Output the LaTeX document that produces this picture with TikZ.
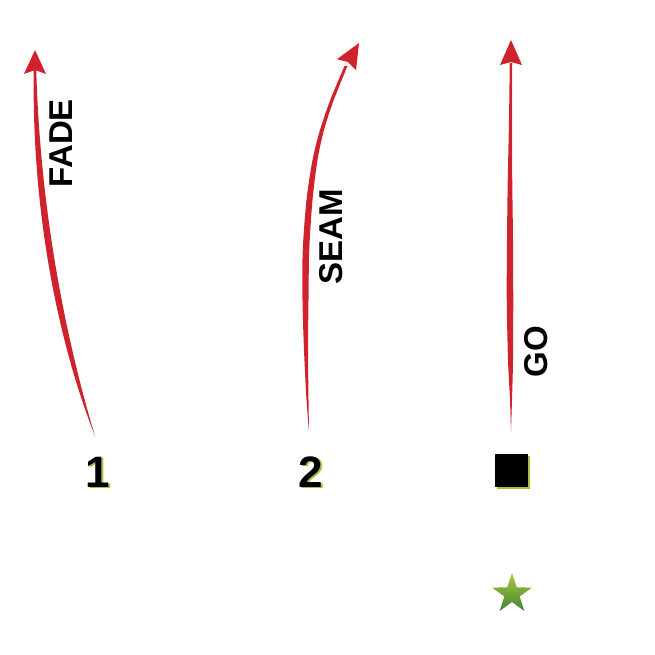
\documentclass[tikz,border=0pt]{standalone}
\usepackage{fontspec}
\setmainfont{Liberation Sans}
\usetikzlibrary{shapes.geometric}
\definecolor{routered}{RGB}{208,34,44}
\definecolor{shadowgreen}{RGB}{170,190,60}
\definecolor{startop}{RGB}{172,198,62}
\definecolor{starbot}{RGB}{70,132,55}
\begin{document}
\begin{tikzpicture}[x=1pt,y=-1pt,
  routelabel/.style={font=\fontsize{33}{33}\selectfont\bfseries, text=black, rotate=90, inner sep=0pt},
  playernum/.style={font=\fontsize{44}{44}\selectfont\bfseries, inner sep=0pt},
  numshadow/.style={playernum, text=shadowgreen},
  route/.style={fill=routered, draw=none}]
\useasboundingbox[fill=white] (0,0) rectangle (655,655);

% named points of the routes
\coordinate (fadetip) at (35,50);
\coordinate (seamtip) at (359,43);
\coordinate (gotip) at (511,40);

% FADE route
\fill[route] (95,436) .. controls (61,350) and (31.5,220) .. (33.75,70)
  -- (36.25,70) .. controls (40.5,220) and (69,350) .. (95,436) -- cycle;
\fill[route] (fadetip) -- (24,74) -- (35,70) -- (46,74) -- cycle;

% SEAM route
\fill[route] plot[smooth] coordinates {(309,432) (306.5,400) (304,350) (302.5,300) (302.75,250) (306.5,200) (312.5,160) (320,130) (330.25,100) (344.5,66)}
  -- plot[smooth] coordinates {(347.5,66) (333.75,100) (324,130) (317.5,160) (312.5,200) (309.25,250) (308.5,300) (308,350) (308.5,400) (309,432)} -- cycle;
\fill[route] (seamtip) -- (337,59.2) -- (348,62) -- (356,70.2) -- cycle;

% GO route
\fill[route] plot[smooth] coordinates {(511,432) (510,400) (508,360) (506.75,300) (507,240) (507.75,180) (509,120) (509.75,63)}
  -- plot[smooth] coordinates {(512.25,63) (512,120) (512.25,180) (513,240) (513.25,300) (513,360) (512,400) (511,432)} -- cycle;
\fill[route] (gotip) -- (500,65) -- (511,62) -- (522,65) -- cycle;

% labels
\node[routelabel] (fade) at (61,143) {FADE};
\node[routelabel] (seam) at (331,237) {SEAM};
\node[routelabel] (go) at (536,352) {GO};

% players
\node[numshadow] at (99.5,473.5) {1};
\node[playernum] (p1) at (98,472) {1};
\node[numshadow] at (312.5,473.5) {2};
\node[playernum] (p2) at (311,472) {2};
\fill[shadowgreen] (497,456) rectangle (529.5,488.5);
\node[fill=black, minimum size=33pt, inner sep=0pt] (p3) at (511.5,470.5) {};

% quarterback
\node[star, star points=5, star point ratio=2.6, minimum size=42pt, inner sep=0pt,
      top color=startop, bottom color=starbot, draw=none] (qb) at (512,594) {};
\end{tikzpicture}
\end{document}
